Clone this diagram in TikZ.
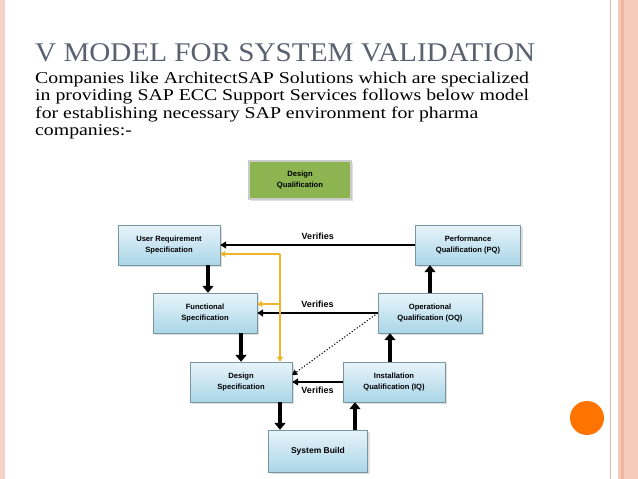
\documentclass[tikz,border=0pt]{standalone}
\usepackage{fontspec}
\setmainfont{Liberation Serif}
\newfontfamily\bodyf[FakeStretch=1.2]{Liberation Serif}
\newfontfamily\titlef[FakeStretch=1.08]{Liberation Serif}
\newfontfamily\diag{Liberation Sans}
\usetikzlibrary{arrows.meta,shadows}
\definecolor{titlec}{RGB}{90,98,112}
\definecolor{frame}{RGB}{240,180,160}
\definecolor{boxtop}{RGB}{232,244,250}
\definecolor{boxbot}{RGB}{170,214,232}
\definecolor{dqg}{RGB}{140,180,80}
\definecolor{yel}{RGB}{240,180,40}
\begin{document}
\begin{tikzpicture}[x=1pt,y=-1pt,
 box/.style={draw=boxbot!70!black,line width=0.4pt,top color=boxtop,bottom color=boxbot,
   drop shadow={shadow xshift=2pt,shadow yshift=-2pt,fill=gray!50},
   font=\diag\bfseries\fontsize{7.6}{11}\selectfont,align=center,inner sep=0pt},
 big/.style={line width=3.2pt,-{Triangle[length=7pt,width=11pt]}},
 ver/.style={line width=1.6pt,-{Triangle[length=6pt,width=7pt]}},
 yarr/.style={yel,line width=1.2pt,-{Triangle[length=5pt,width=6pt]}},
 lab/.style={font=\diag\bfseries\fontsize{9}{10}\selectfont}]
\useasboundingbox (0,0) rectangle (638,479);
\fill[white] (0,0) rectangle (638,479);
\fill[frame!60] (0,0) rectangle (5,479);
\draw[frame,line width=1pt] (610,0) -- (610,479);
\fill[frame!70] (618,0) rectangle (638,479);
\fill[frame] (621,0) rectangle (624,479);
\fill[orange!90!red] (587,418) circle (17);
\node[anchor=base west,text=titlec,font=\titlef\fontsize{27}{30}\selectfont,inner sep=0pt] (title) at (35,61) {V MODEL FOR SYSTEM VALIDATION};
\node[anchor=north west,align=left,font=\bodyf\fontsize{16.5}{17.3}\selectfont,inner sep=0pt] (body) at (35,72)
 {Companies like ArchitectSAP Solutions which are specialized\\in providing SAP ECC Support Services follows below model\\for establishing necessary SAP environment for pharma\\companies:-};
\node[box,top color=dqg,bottom color=dqg,draw=gray!40,line width=2pt,drop shadow={opacity=0}, minimum width=102pt,minimum height=38pt] (dq) at (300,180) {Design\\Qualification};
\node[box,minimum width=102pt,minimum height=40pt] (urs) at (169,245) {User Requirement\\Specification};
\node[box,minimum width=105pt,minimum height=40pt] (pq) at (468,245) {Performance\\Qualification (PQ)};
\node[box,minimum width=104pt,minimum height=40pt] (fs) at (205,313) {Functional\\Specification};
\node[box,minimum width=104pt,minimum height=40pt] (oq) at (430,313) {Operational\\Qualification (OQ)};
\node[box,minimum width=102pt,minimum height=40pt] (ds) at (241,382) {Design\\Specification};
\node[box,minimum width=102pt,minimum height=40pt] (iq) at (394,382) {Installation\\Qualification (IQ)};
\node[box,minimum width=99pt,minimum height=42pt,font=\diag\bfseries\fontsize{8.5}{10}\selectfont] (sb) at (318,451) {System Build};
\draw[ver] (pq.west) -- (urs.east) node[lab,midway,above=1pt] {Verifies};
\draw[ver] (oq.west) -- (fs.east) node[lab,midway,above=1pt] {Verifies};
\draw[ver] (iq.west) -- (ds.east) node[lab,midway,below=1pt] {Verifies};
\draw[dotted,line width=1.1pt,-{Triangle[length=5pt,width=6pt]}] (oq.west) -- (ds.east|-0,375);
\coordinate (ytop) at (280,254);
\coordinate (ymid) at (280,304);
\draw[yarr] (ytop) -- (urs.east|-ytop);
\draw[yarr] (ytop) -- (ds.north-|ytop);
\draw[yarr] (ymid) -- (fs.east|-ymid);
\draw[big] (urs.south-|208,0) -- (fs.north-|208,0);
\draw[big] (fs.south-|241,0) -- (ds.north-|241,0);
\draw[big] (ds.south-|280,0) -- (sb.north-|280,0);
\draw[big] (sb.north-|355,0) -- (iq.south-|355,0);
\draw[big] (iq.north-|390,0) -- (oq.south-|390,0);
\draw[big] (oq.north-|430,0) -- (pq.south-|430,0);
\end{tikzpicture}
\end{document}
